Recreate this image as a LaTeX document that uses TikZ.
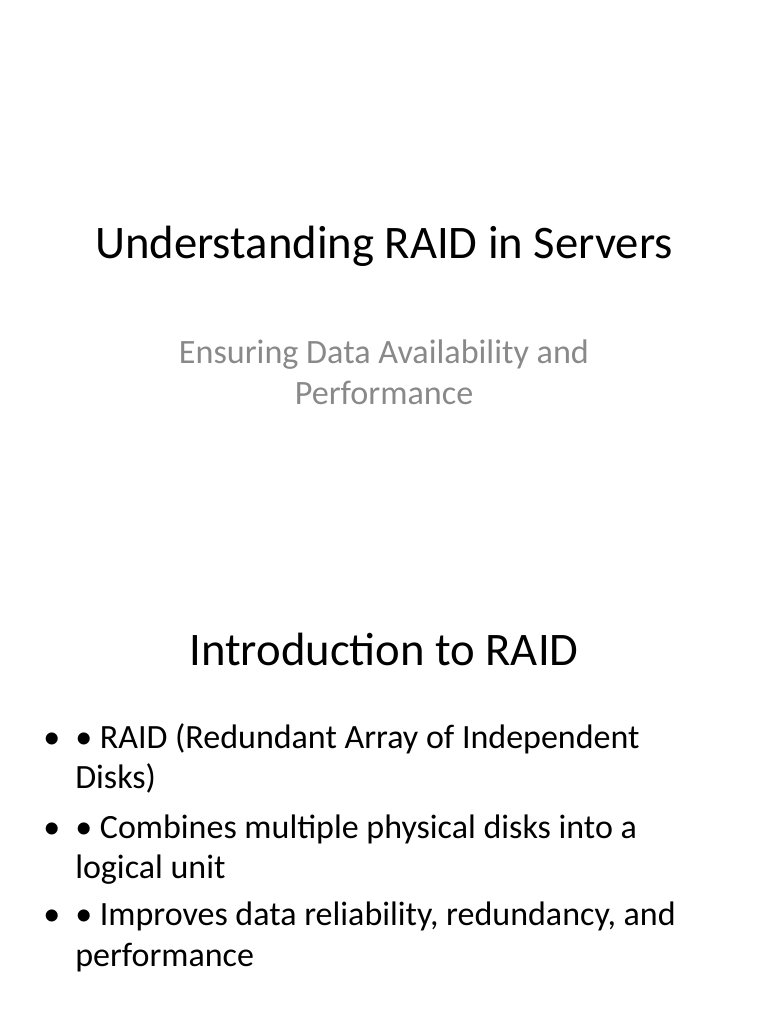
\documentclass[tikz,border=0pt]{standalone}
\usepackage{fontspec}
\setmainfont{Carlito}
\definecolor{sub}{RGB}{137,137,137}
\begin{document}
\begin{tikzpicture}[x=0.75pt,y=-0.75pt,
  t/.style={anchor=base,inner sep=0pt},
  b/.style={anchor=base west,inner sep=0pt,font=\fontsize{25.5}{30}\selectfont}]
\useasboundingbox (0,0) rectangle (768,1024);
\node[t,font=\fontsize{35}{40}\selectfont] (title) at (384,258) {Understanding RAID in Servers};
\node[t,font=\fontsize{25.6}{30}\selectfont,text=sub] (s1) at (384,363) {Ensuring Data Availability and};
\node[t,font=\fontsize{25.6}{30}\selectfont,text=sub] (s2) at (384,404) {Performance};
\node[t,font=\fontsize{35}{40}\selectfont] (head) at (384,665) {Introduction to RAID};
\foreach \y/\n in {748/a,838/b,925/c}{\node[b] (d\n) at (43,\y) {•};}
\node[b] (l1) at (75,748) {• RAID (Redundant Array of Independent};
\node[b] (l2) at (75,788) {Disks)};
\node[b] (l3) at (75,838) {• Combines multiple physical disks into a};
\node[b] (l4) at (75,878) {logical unit};
\node[b] (l5) at (75,925) {• Improves data reliability, redundancy, and};
\node[b] (l6) at (75,966) {performance};
\end{tikzpicture}
\end{document}
